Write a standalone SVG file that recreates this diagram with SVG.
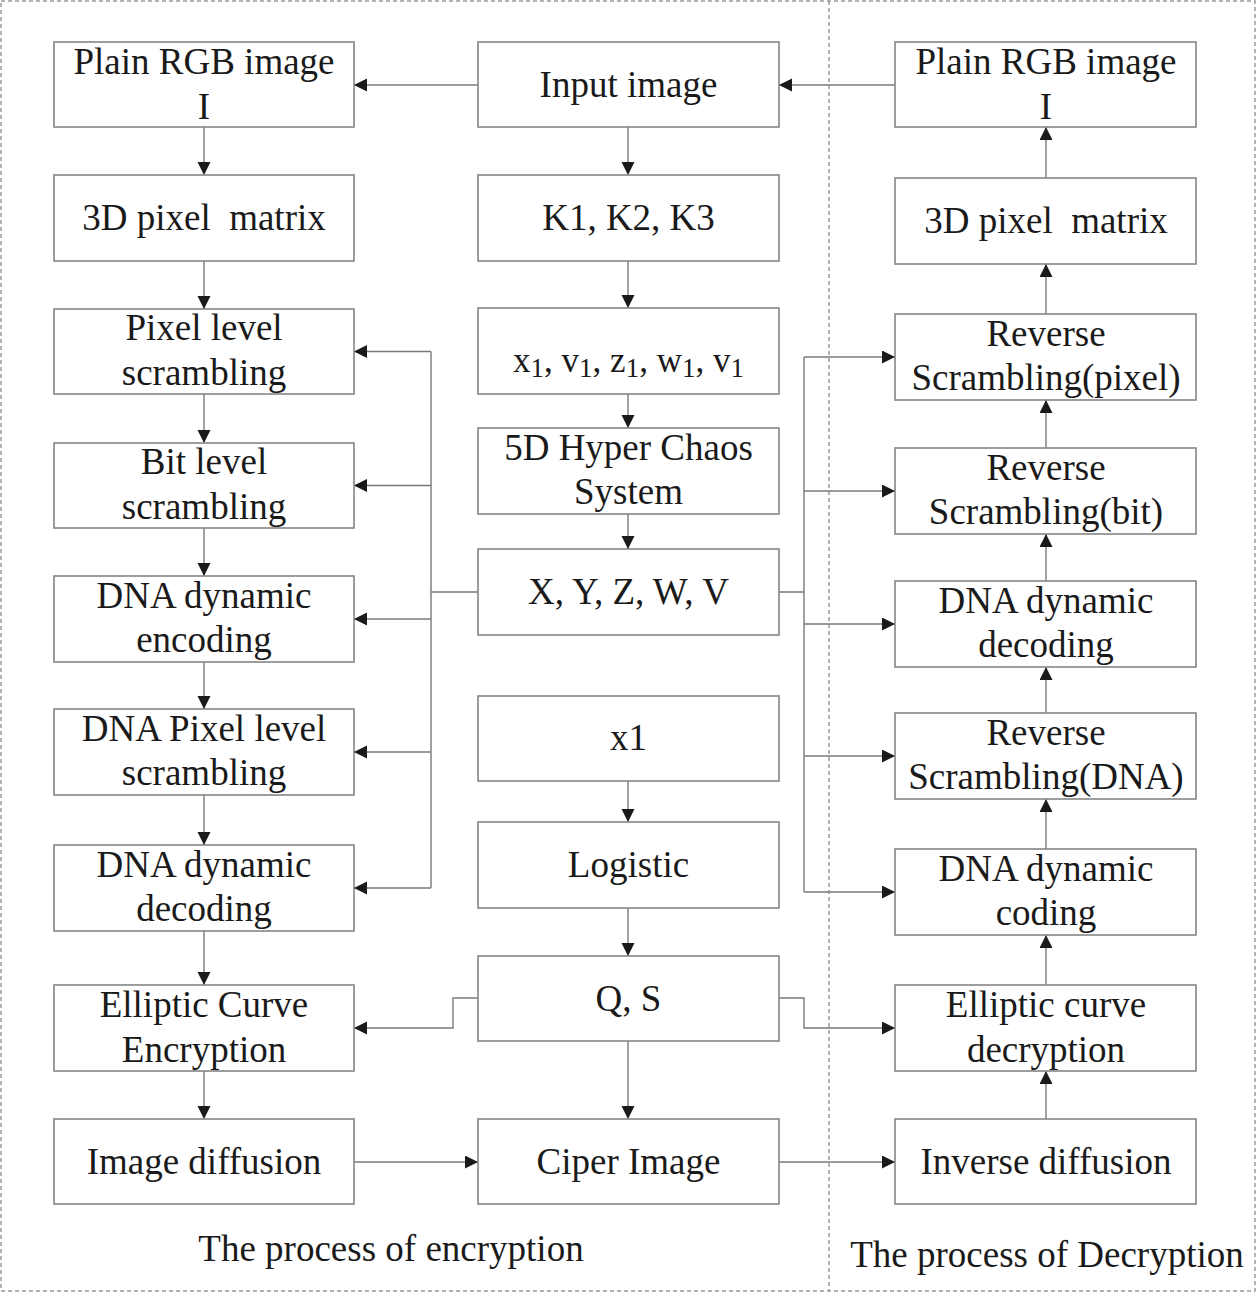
<svg xmlns="http://www.w3.org/2000/svg" width="1257" height="1293" viewBox="0 0 1257 1293">
<style>
  .frame { fill: none; stroke: #9a9a9a; stroke-width: 1.5; stroke-dasharray: 4 3; }
  .box { fill: #ffffff; stroke: #858585; stroke-width: 1.6; }
  .t { font-family: "Liberation Serif", "Times New Roman", serif; font-size: 37px; fill: #1a1a1a; text-anchor: middle; white-space: pre; }
  .conn path, .conn line { fill: none; stroke: #7a7a7a; stroke-width: 1.4; }
  .arr { marker-end: url(#ah); }
</style>
<defs>
  <marker id="ah" markerUnits="userSpaceOnUse" markerWidth="14" markerHeight="14" refX="13" refY="6.5" orient="auto">
    <path d="M0,0 L13,6.5 L0,13 Z" fill="#1a1a1a"/>
  </marker>
</defs>
<rect width="1257" height="1293" fill="#ffffff"/>
<g id="frame">
  <rect class="frame" x="1" y="1" width="1254" height="1290"/>
  <line class="frame" x1="829" y1="1" x2="829" y2="1291"/>
</g>
<g class="conn" id="connectors">
  <line class="arr" x1="478" y1="85" x2="354" y2="85"/>
  <line class="arr" x1="895" y1="85" x2="779" y2="85"/>
  <line class="arr" x1="204" y1="127" x2="204" y2="175"/>
  <line class="arr" x1="204" y1="261" x2="204" y2="309"/>
  <line class="arr" x1="204" y1="394" x2="204" y2="443"/>
  <line class="arr" x1="204" y1="528" x2="204" y2="576"/>
  <line class="arr" x1="204" y1="662" x2="204" y2="709"/>
  <line class="arr" x1="204" y1="795" x2="204" y2="845"/>
  <line class="arr" x1="204" y1="931" x2="204" y2="985"/>
  <line class="arr" x1="204" y1="1071" x2="204" y2="1119"/>
  <line class="arr" x1="628" y1="127" x2="628" y2="175"/>
  <line class="arr" x1="628" y1="261" x2="628" y2="308"/>
  <line class="arr" x1="628" y1="394" x2="628" y2="428"/>
  <line class="arr" x1="628" y1="514" x2="628" y2="549"/>
  <line class="arr" x1="628" y1="781" x2="628" y2="822"/>
  <line class="arr" x1="628" y1="908" x2="628" y2="956"/>
  <line class="arr" x1="628" y1="1041" x2="628" y2="1119"/>
  <line class="arr" x1="1046" y1="1119" x2="1046" y2="1071"/>
  <line class="arr" x1="1046" y1="985" x2="1046" y2="935"/>
  <line class="arr" x1="1046" y1="849" x2="1046" y2="799"/>
  <line class="arr" x1="1046" y1="713" x2="1046" y2="667"/>
  <line class="arr" x1="1046" y1="581" x2="1046" y2="534"/>
  <line class="arr" x1="1046" y1="448" x2="1046" y2="400"/>
  <line class="arr" x1="1046" y1="314" x2="1046" y2="264"/>
  <line class="arr" x1="1046" y1="178" x2="1046" y2="127"/>
  <path d="M478,592 H431 M431,351.5 V888"/>
  <line class="arr" x1="431" y1="351.5" x2="354" y2="351.5"/>
  <line class="arr" x1="431" y1="485.5" x2="354" y2="485.5"/>
  <line class="arr" x1="431" y1="619" x2="354" y2="619"/>
  <line class="arr" x1="431" y1="752" x2="354" y2="752"/>
  <line class="arr" x1="431" y1="888" x2="354" y2="888"/>
  <path d="M779,592 H804 M804,357 V892"/>
  <line class="arr" x1="804" y1="357" x2="895" y2="357"/>
  <line class="arr" x1="804" y1="491" x2="895" y2="491"/>
  <line class="arr" x1="804" y1="624" x2="895" y2="624"/>
  <line class="arr" x1="804" y1="756" x2="895" y2="756"/>
  <line class="arr" x1="804" y1="892" x2="895" y2="892"/>
  <path class="arr" d="M478,998 H453 V1028 H354"/>
  <path class="arr" d="M779,998 H804 V1028 H895"/>
  <line class="arr" x1="354" y1="1162" x2="478" y2="1162"/>
  <line class="arr" x1="779" y1="1162" x2="895" y2="1162"/>
</g>
<g id="L1"><rect class="box" x="54" y="42" width="300" height="85"/><text class="t" x="204" y="74">Plain RGB image</text><text class="t" x="204" y="119">I</text></g>
<g id="L2"><rect class="box" x="54" y="175" width="300" height="86"/><text class="t" x="204" y="230">3D pixel  matrix</text></g>
<g id="L3"><rect class="box" x="54" y="309" width="300" height="85"/><text class="t" x="204" y="340">Pixel level</text><text class="t" x="204" y="385">scrambling</text></g>
<g id="L4"><rect class="box" x="54" y="443" width="300" height="85"/><text class="t" x="204" y="474">Bit level</text><text class="t" x="204" y="519">scrambling</text></g>
<g id="L5"><rect class="box" x="54" y="576" width="300" height="86"/><text class="t" x="204" y="608">DNA dynamic</text><text class="t" x="204" y="652">encoding</text></g>
<g id="L6"><rect class="box" x="54" y="709" width="300" height="86"/><text class="t" x="204" y="741">DNA Pixel level</text><text class="t" x="204" y="785">scrambling</text></g>
<g id="L7"><rect class="box" x="54" y="845" width="300" height="86"/><text class="t" x="204" y="877">DNA dynamic</text><text class="t" x="204" y="921">decoding</text></g>
<g id="L8"><rect class="box" x="54" y="985" width="300" height="86"/><text class="t" x="204" y="1017">Elliptic Curve</text><text class="t" x="204" y="1062">Encryption</text></g>
<g id="L9"><rect class="box" x="54" y="1119" width="300" height="85"/><text class="t" x="204" y="1174">Image diffusion</text></g>
<g id="M1"><rect class="box" x="478" y="42" width="301" height="85"/><text class="t" x="628.5" y="97">Input image</text></g>
<g id="M2"><rect class="box" x="478" y="175" width="301" height="86"/><text class="t" x="628.5" y="230">K1, K2, K3</text></g>
<g id="M3"><rect class="box" x="478" y="308" width="301" height="86"/><text class="t" x="628.5" y="372" style="font-size:35px">x<tspan dy="5" style="font-size:27px">1</tspan><tspan dy="-5">, v</tspan><tspan dy="5" style="font-size:27px">1</tspan><tspan dy="-5">, z</tspan><tspan dy="5" style="font-size:27px">1</tspan><tspan dy="-5">, w</tspan><tspan dy="5" style="font-size:27px">1</tspan><tspan dy="-5">, v</tspan><tspan dy="5" style="font-size:27px">1</tspan></text></g>
<g id="M4"><rect class="box" x="478" y="428" width="301" height="86"/><text class="t" x="628.5" y="460">5D Hyper Chaos</text><text class="t" x="628.5" y="504">System</text></g>
<g id="M5"><rect class="box" x="478" y="549" width="301" height="86"/><text class="t" x="628.5" y="604">X, Y, Z, W, V</text></g>
<g id="M6"><rect class="box" x="478" y="696" width="301" height="85"/><text class="t" x="628.5" y="750">x1</text></g>
<g id="M7"><rect class="box" x="478" y="822" width="301" height="86"/><text class="t" x="628.5" y="877">Logistic</text></g>
<g id="M8"><rect class="box" x="478" y="956" width="301" height="85"/><text class="t" x="628.5" y="1011">Q, S</text></g>
<g id="M9"><rect class="box" x="478" y="1119" width="301" height="85"/><text class="t" x="628.5" y="1174">Ciper Image</text></g>
<g id="R1"><rect class="box" x="895" y="42" width="301" height="85"/><text class="t" x="1046" y="74">Plain RGB image</text><text class="t" x="1046" y="119">I</text></g>
<g id="R2"><rect class="box" x="895" y="178" width="301" height="86"/><text class="t" x="1046" y="233">3D pixel  matrix</text></g>
<g id="R3"><rect class="box" x="895" y="314" width="301" height="86"/><text class="t" x="1046" y="346">Reverse</text><text class="t" x="1046" y="390">Scrambling(pixel)</text></g>
<g id="R4"><rect class="box" x="895" y="448" width="301" height="86"/><text class="t" x="1046" y="480">Reverse</text><text class="t" x="1046" y="524">Scrambling(bit)</text></g>
<g id="R5"><rect class="box" x="895" y="581" width="301" height="86"/><text class="t" x="1046" y="613">DNA dynamic</text><text class="t" x="1046" y="657">decoding</text></g>
<g id="R6"><rect class="box" x="895" y="713" width="301" height="86"/><text class="t" x="1046" y="745">Reverse</text><text class="t" x="1046" y="789">Scrambling(DNA)</text></g>
<g id="R7"><rect class="box" x="895" y="849" width="301" height="86"/><text class="t" x="1046" y="881">DNA dynamic</text><text class="t" x="1046" y="925">coding</text></g>
<g id="R8"><rect class="box" x="895" y="985" width="301" height="86"/><text class="t" x="1046" y="1017">Elliptic curve</text><text class="t" x="1046" y="1062">decryption</text></g>
<g id="R9"><rect class="box" x="895" y="1119" width="301" height="85"/><text class="t" x="1046" y="1174">Inverse diffusion</text></g>
<g id="titles">
  <text class="t" x="391" y="1261">The process of encryption</text>
  <text class="t" x="1047" y="1267">The process of Decryption</text>
</g>
</svg>
